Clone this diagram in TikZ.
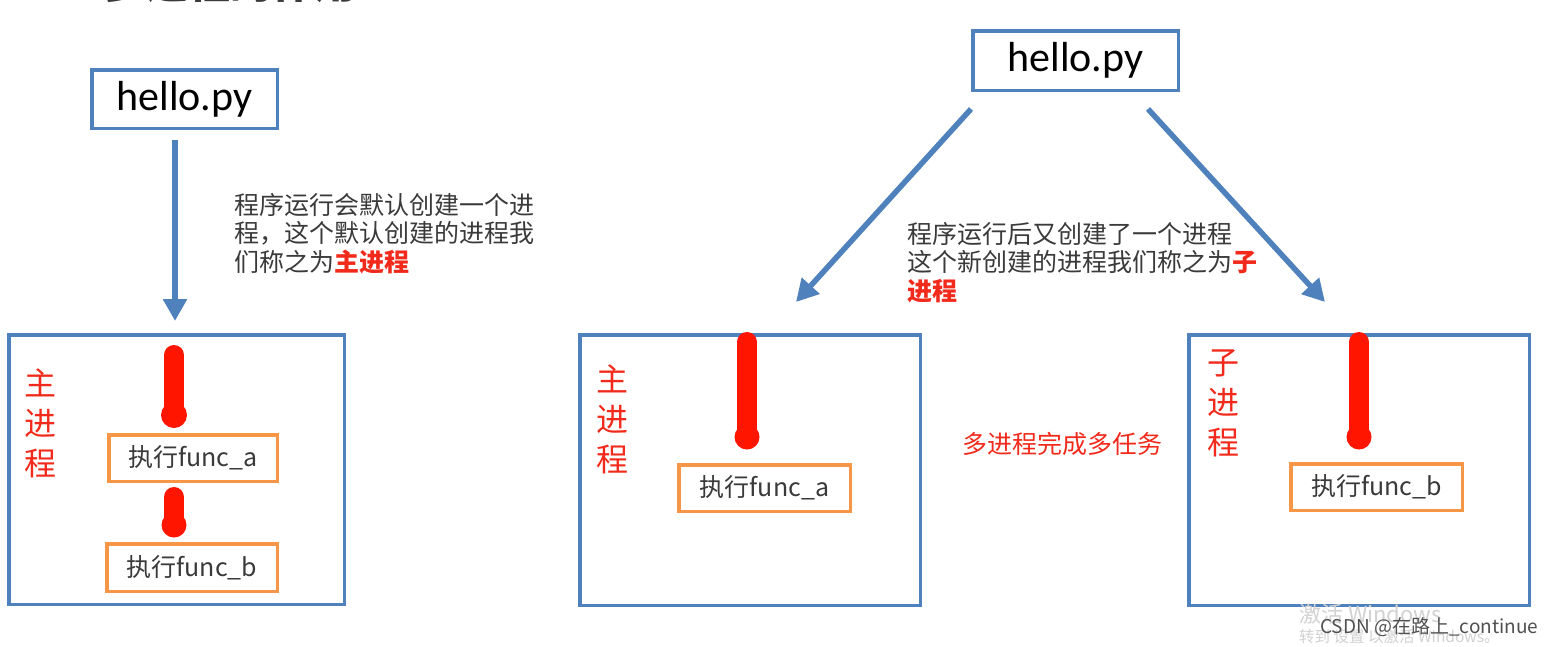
\documentclass[tikz,border=0pt]{standalone}
\usepackage{fontspec}
\setmainfont{Noto Sans CJK SC}
\newfontfamily\calfont{Carlito}
\usetikzlibrary{arrows.meta}
\definecolor{pblue}{HTML}{4F81BD}
\definecolor{porange}{HTML}{F79646}
\definecolor{pred}{HTML}{FF1500}
\definecolor{tred}{HTML}{F22A1C}
\definecolor{tgray}{HTML}{3A3A3A}
\definecolor{wgray}{HTML}{D2D2D2}
\definecolor{cgray}{HTML}{505050}
\tikzset{
  hbox/.style={draw=pblue, line width=3.5pt, inner sep=0pt, text=black,
    font=\calfont\fontsize{42}{48}\selectfont},
  bigbox/.style={draw=pblue, line width=3.5pt, inner sep=0pt},
  funcbox/.style={draw=porange, line width=3.5pt, inner sep=0pt, text=tgray,
    font=\fontsize{25}{28}\selectfont},
  vlabel/.style={text=tred, inner sep=0pt, align=center,
    font=\fontsize{32}{40}\selectfont},
  para/.style={text=tgray, inner sep=0pt, align=left, anchor=north west,
    font=\fontsize{25}{28.5}\selectfont},
  bluearrow/.style={draw=pblue, line width=5.5pt,
    -{Triangle[width=23pt,length=22pt]}},
  redbar/.style={draw=pred, line width=20pt, line cap=round},
  redblob/.style={fill=pred},
}
\begin{document}
\begin{tikzpicture}[x=1pt,y=-1pt]
\useasboundingbox (0,0) rectangle (1552,646);
\fill[white] (0,0) rectangle (1552,646);
% title fragment (cut off by the top edge)
\begin{scope}
  \clip (0,0) rectangle (1552,646);
  \node[anchor=base west, inner sep=0pt, text=tgray,
        font=\bfseries\fontsize{42}{48}\selectfont] (title) at (104,-1.5) {多进程的作用};
\end{scope}

% boxes
\node[hbox, minimum width=185.5pt, minimum height=58.5pt] (hello1) at (184.5,99) {hello.py};
\node[hbox, minimum width=205.5pt, minimum height=59.5pt] (hello2) at (1075.5,60.5) {hello.py};

\node[bigbox, minimum width=335.5pt, minimum height=269.5pt] (big1) at (176.5,469.5) {};
\node[bigbox, minimum width=340.5pt, minimum height=270.5pt] (big2) at (750,470) {};
\node[bigbox, minimum width=340.5pt, minimum height=270.5pt] (big3) at (1359,470) {};

\node[funcbox, minimum width=168.5pt, minimum height=46.5pt] (fa1) at (193,458) {执行func\_a};
\node[funcbox, minimum width=170.5pt, minimum height=47.5pt] (fb1) at (192,567.5) {执行func\_b};
\node[funcbox, minimum width=171.5pt, minimum height=46.5pt] (fa2) at (764.5,488) {执行func\_a};
\node[funcbox, minimum width=171.5pt, minimum height=46.5pt] (fb3) at (1376.5,487) {执行func\_b};

% vertical labels
\node[vlabel] (lab1) at (40,423) {主\\进\\程};
\node[vlabel] (lab2) at (612,419) {主\\进\\程};
\node[vlabel] (lab3) at (1223,403) {子\\进\\程};

% paragraphs
\node[para] (txt1) at (234,193) {程序运行会默认创建一个进\\程，这个默认创建的进程我\\们称之为{\color{tred}\bfseries 主进程}};
\node[para] (txt2) at (907,222) {程序运行后又创建了一个进程\\这个新创建的进程我们称之为{\color{tred}\bfseries 子}\\{\color{tred}\bfseries 进程}};

\node[text=tred, inner sep=0pt, font=\fontsize{25}{28}\selectfont] (mid) at (1062,444) {多进程完成多任务};

% blue arrows
\coordinate (a1s) at (175,140);
\coordinate (a1e) at (175,321);
\coordinate (a2s) at (971,109);
\coordinate (a2e) at (796,302);
\coordinate (a3s) at (1148,109);
\coordinate (a3e) at (1325,302);
\draw[bluearrow] (a1s) -- (a1e);
\draw[bluearrow] (a2s) -- (a2e);
\draw[bluearrow] (a3s) -- (a3e);

% red bars
\coordinate (r1s) at (174,355); \coordinate (r1e) at (174,415);
\coordinate (r2s) at (174,497); \coordinate (r2e) at (174,525);
\coordinate (r3s) at (747,342); \coordinate (r3e) at (747,437);
\coordinate (r4s) at (1359,342); \coordinate (r4e) at (1359,437);
\draw[redbar] (r1s) -- (r1e); \fill[redblob] (r1e) circle (13);
\draw[redbar] (r2s) -- (r2e); \fill[redblob] (r2e) circle (12.5);
\draw[redbar] (r3s) -- (r3e); \fill[redblob] (r3e) circle (12.5);
\draw[redbar] (r4s) -- (r4e); \fill[redblob] (r4e) circle (12.5);

% watermarks
\node[anchor=west, inner sep=0pt, text=wgray, font=\fontsize{22}{24}\selectfont] (win1) at (1299,614) {激活 Windows};
\node[anchor=west, inner sep=0pt, text=wgray, font=\fontsize{15.5}{17}\selectfont] (win2) at (1299,637) {转到 设置 以激活 Windows。};
\node[anchor=west, inner sep=0pt, text=cgray, font=\fontsize{19}{22}\selectfont] (csdn) at (1320,627) {CSDN @在路上\_continue};
\end{tikzpicture}
\end{document}
